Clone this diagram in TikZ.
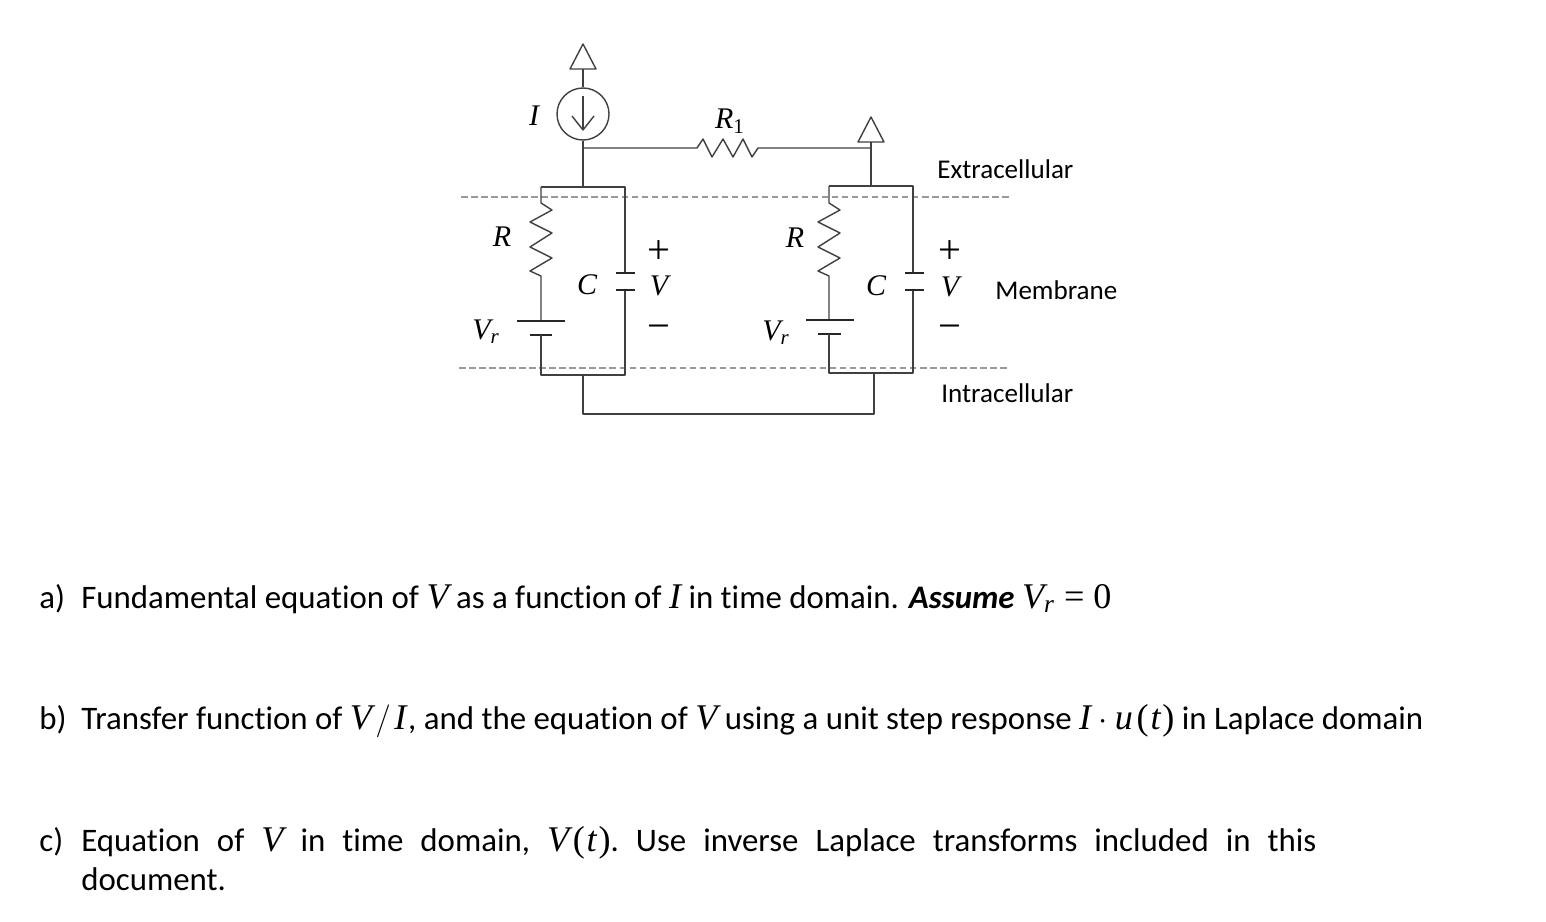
\documentclass[tikz,border=0pt]{standalone}
\usepackage{fix-cm}
\usepackage{amsmath}
\usepackage{fontspec}
\setmainfont[Ligatures=CommonOff]{Carlito}
\newfontfamily\symfont[Scale=1.1]{Liberation Serif}
\newcommand{\sy}[1]{\text{\symfont\itshape #1}}
\newcommand{\ro}[1]{\text{\symfont #1}}
\newcommand{\bodysize}{\fontsize{18.7}{22.7}\selectfont}
\newcommand{\labelsize}{\fontsize{15.4}{18}\selectfont}
\begin{document}
\begin{tikzpicture}[x=0.2mm,y=-0.2mm]
\tikzstyle{wire} = [draw=black!75, line width=0.8pt, line join=round]
\tikzstyle{plate} = [draw=black!85, line width=0.9pt]
\tikzstyle{level} = [draw=black!40, line width=0.7pt, dash pattern=on 3.7pt off 2pt]
\tikzstyle{sym} = [inner sep=0pt, font=\fontsize{15.5}{19}\selectfont]
\tikzstyle{sign} = [inner sep=0pt, font=\fontsize{21}{23}\selectfont]
\tikzstyle{side} = [inner sep=0pt, anchor=base west, font=\labelsize]
\tikzstyle{item} = [inner sep=0pt, anchor=base west, font=\bodysize]

\useasboundingbox (0,0) rectangle (1546,922);

% membrane levels
\node[inner sep=0pt] (e1) at (460,197) {};
\node[inner sep=0pt] (e2) at (1010,197) {};
\node[inner sep=0pt] (n1) at (458,368) {};
\node[inner sep=0pt] (n2) at (1008,368) {};
\draw[level] (e1) -- (e2);
\draw[level] (n1) -- (n2);

% current source
\node[circle, draw=black!75, line width=0.8pt, minimum size=1.04cm, inner sep=0pt] (src) at (583,114) {};
\coordinate (srctop) at (583,69);
\coordinate (j1) at (583,148);
\coordinate (j2) at (871,148);
\coordinate (top2) at (871,142);
\draw[wire] (srctop) -- (src);
\draw[wire] (583,44) -- (596,69) -- (570,69) -- cycle;
\draw[wire] (871,117) -- (884,142) -- (858,142) -- cycle;
\draw[wire] (583,96) -- (583,129);
\draw[wire] (572,116) -- (583,130) -- (594,116);

% left cell
\coordinate (a1) at (583,187);
\coordinate (a2) at (541,187);
\coordinate (a3) at (625,187);
\coordinate (a4) at (541,375);
\coordinate (a5) at (625,375);
\coordinate (a6) at (583,375);
\coordinate (a7) at (583,414);
\draw[wire] (src) -- (a1);
\draw[wire] (a2) -- (a3) -- (625,273);
\draw[wire] (a2) -- (541,203) -- ++(11,7) -- ++(-22,12) -- ++(22,11) -- ++(-22,14) -- ++(22,11) -- ++(-22,13) -- ++(11,5) -- (541,321);
\draw[plate] (517,321) -- (565,321);
\draw[plate] (530,335) -- (552,335);
\draw[wire] (541,335) -- (a4) -- (a5) -- (625,290);
\draw[plate] (616,273) -- (635,273);
\draw[plate] (616,290) -- (635,290);

% right cell
\coordinate (b1) at (871,186);
\coordinate (b2) at (829,186);
\coordinate (b3) at (913,186);
\coordinate (b4) at (829,373);
\coordinate (b5) at (913,373);
\coordinate (b6) at (874,373);
\coordinate (b7) at (874,414);
\draw[wire] (top2) -- (b1);
\draw[wire] (b2) -- (b3) -- (913,273);
\draw[wire] (b2) -- (829,203) -- ++(11,7) -- ++(-22,12) -- ++(22,11) -- ++(-22,14) -- ++(22,11) -- ++(-22,13) -- ++(11,5) -- (829,320);
\draw[plate] (806,320) -- (854,320);
\draw[plate] (818,334) -- (841,334);
\draw[wire] (829,334) -- (b4) -- (b5) -- (913,290);
\draw[plate] (905,273) -- (924,273);
\draw[plate] (905,290) -- (924,290);

% links
\draw[wire] (j1) -- (697,148) -- ++(6,-9) -- ++(9,18) -- ++(11,-18) -- ++(10,18) -- ++(10,-18) -- ++(9,18) -- ++(6,-9) -- (j2);
\draw[wire] (a6) -- (a7) -- (b7) -- (b6);

% circuit labels
\node[sym] (li) at (534,116) {$\sy{I}$};
\node[sym] (lr1) at (730,121) {$\sy{R}_{\ro{1}}$};
\node[sym] (lr) at (502,237) {$\sy{R}$};
\node[sym] (lvr) at (486,332) {$\sy{V}_{\sy{r}}$};
\node[sym] (lc) at (587,285) {$\sy{C}$};
\node[sign] (lp) at (659,252) {\symfont +};
\node[sym] (lv) at (659,286) {$\sy{V}$};
\node[sign] (lm) at (659,332) {\symfont −};
\node[sym] (lr2) at (795,238) {$\sy{R}$};
\node[sym] (lvr2) at (776,333) {$\sy{V}_{\sy{r}}$};
\node[sym] (lc2) at (876,286) {$\sy{C}$};
\node[sign] (lp2) at (950,252) {\symfont +};
\node[sym] (lv2) at (950,287) {$\sy{V}$};
\node[sign] (lm2) at (950,332) {\symfont −};

\node[side] (ext) at (937,178) {Extracellular};
\node[side] (mem) at (995,299) {Membrane};
\node[side] (int) at (941,402) {Intracellular};

% questions
\node[item] (qa) at (39,608) {a)};
\node[item] (ta) at (81,608) {Fundamental equation of $\sy{V}$ as a function of $\sy{I}$ in time domain. \textbf{\textit{Assume}} $\sy{V}_{\sy{r}}\mathrel{\ro{=}}\ro{0}$};
\node[item] (qb) at (39,729) {b)};
\node[item] (tb) at (81,729) {\frenchspacing Transfer function of $\sy{V}\mkern2mu/\mkern2mu\sy{I}\mkern1mu$, and the equation of $\sy{V}$ using a unit step response $\sy{I}\cdot \sy{u}\mkern2mu\ro{(}\mkern1mu\sy{t}\mkern1mu\ro{)}$ in Laplace domain};
\node[item] (qc) at (39,851) {c)};
\node[item, text width=24.7cm, align=justify] (tc) at (81,851) {\frenchspacing Equation of $\sy{V}$ in time domain, $\sy{V}\mkern2mu\ro{(}\mkern1mu\sy{t}\mkern1mu\ro{)}$. Use inverse Laplace transforms included in this\linebreak document.};
\end{tikzpicture}
\end{document}
